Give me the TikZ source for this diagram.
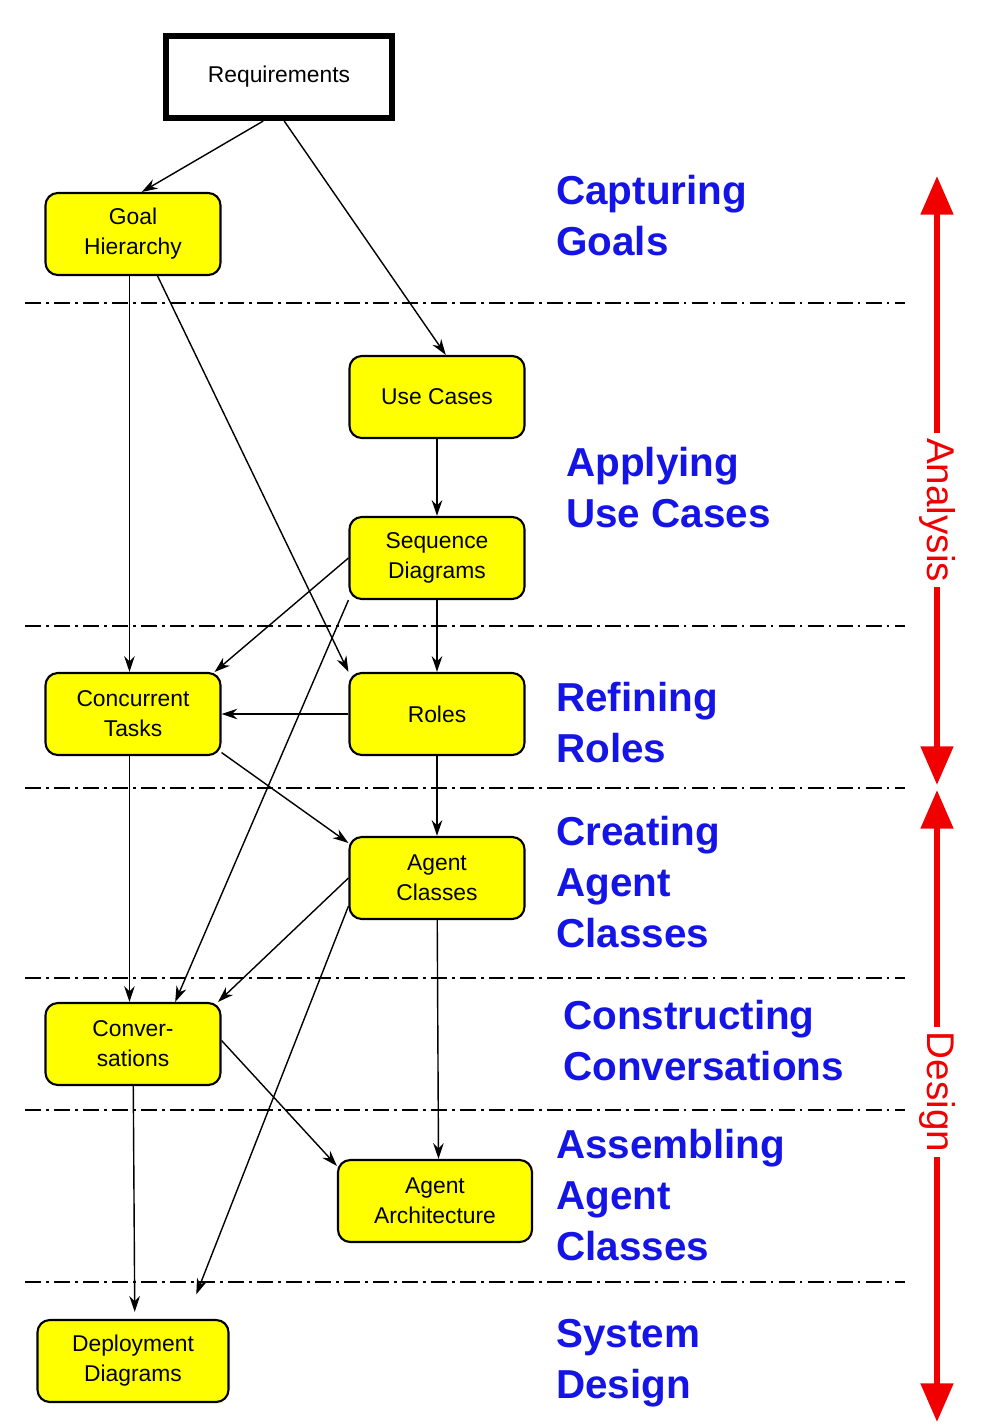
\documentclass[tikz,border=0pt]{standalone}
\usepackage{fontspec}
\setmainfont{Liberation Sans}
\usetikzlibrary{arrows.meta}
\definecolor{boxy}{RGB}{255,255,0}
\definecolor{lblue}{RGB}{20,20,230}
\definecolor{lred}{RGB}{240,0,0}
\tikzset{
 pbox/.style={draw=black,fill=boxy,rounded corners=7pt,line width=1.2pt,minimum width=175*0.02cm,minimum height=82*0.02cm,align=center,font=\fontsize{13}{17}\selectfont,inner sep=1pt},
 conn/.style={-{Stealth[length=9pt,width=6pt]},line width=0.8pt},
 sep/.style={dash pattern=on 9pt off 3pt on 1.5pt off 3pt,line width=0.8pt},
 phase/.style={anchor=west,align=left,text=lblue,font=\bfseries\fontsize{23}{29}\selectfont},
 redarr/.style={draw=lred,line width=3.5pt,{Triangle[length=22pt,width=18pt]}-{Triangle[length=22pt,width=18pt]}},
 redlbl/.style={text=lred,fill=white,rotate=-90,font=\fontsize{22}{26}\selectfont,inner sep=3pt}
}
\begin{document}
\begin{tikzpicture}[x=0.02cm,y=-0.02cm]
\useasboundingbox (0,0) rectangle (993,1427);
\node[draw,line width=3.5pt,minimum width=226*0.02cm,minimum height=82*0.02cm,font=\fontsize{13}{17}\selectfont] (req) at (279,77) {Requirements};
\node[pbox] (goal) at (133,234) {Goal\\Hierarchy};
\node[pbox] (uc) at (437,397) {Use Cases};
\node[pbox] (seq) at (437,558) {Sequence\\Diagrams};
\node[pbox] (ct) at (133,714) {Concurrent\\Tasks};
\node[pbox] (roles) at (437,714) {Roles};
\node[pbox] (ac) at (437,878) {Agent\\Classes};
\node[pbox] (conv) at (133,1044) {Conver-\\sations};
\node[pbox,minimum width=194*0.02cm] (arch) at (435,1201) {Agent\\Architecture};
\node[pbox,minimum width=191*0.02cm] (dep) at (133,1361) {Deployment\\Diagrams};
\foreach \y in {303,626,788,978,1110,1282} \draw[sep] (25,\y) -- (905,\y);
\node[phase] (p1) at (550,216) {Capturing\\Goals};
\node[phase] (p2) at (560,488) {Applying\\Use Cases};
\node[phase] (p3) at (550,723) {Refining\\Roles};
\node[phase] (p4) at (550,882) {Creating\\Agent\\Classes};
\node[phase] (p5) at (557,1041) {Constructing\\Conversations};
\node[phase] (p6) at (550,1195) {Assembling\\Agent\\Classes};
\node[phase] (p7) at (550,1363) {System\\Design};
\coordinate (a1) at (937,176); \coordinate (a2) at (937,785);
\coordinate (d1) at (937,790); \coordinate (d2) at (937,1422);
\draw[redarr] (a1) -- (a2);
\draw[redarr] (d1) -- (d2);
\node[redlbl] (an) at (937,510) {Analysis};
\node[redlbl] (de) at (937,1092) {Design};
\draw[conn] ([xshift=-9pt]req.south) -- ([xshift=5pt]goal.north);
\draw[conn] ([xshift=3pt]req.south) -- ([xshift=5pt]uc.north);
\draw[conn] ([xshift=-2pt]goal.south) -- ([xshift=-2pt]ct.north);
\draw[conn] ([xshift=14pt]goal.south) -- (roles.north west);
\draw[conn] (uc) -- (seq);
\draw[conn] (seq.west) -- ([xshift=-4pt]ct.north east);
\draw[conn] (seq.south west) -- ([xshift=24pt]conv.north);
\draw[conn] (seq) -- (roles);
\draw[conn] (roles) -- (ct);
\draw[conn] ([yshift=2pt]ct.south east) -- ([yshift=-4pt]ac.north west);
\draw[conn] (roles) -- (ac);
\draw[conn] ([xshift=-2pt]ct.south) -- ([xshift=-2pt]conv.north);
\draw[conn] (ac.west) -- ([xshift=-2pt]conv.north east);
\draw[conn] ([yshift=-16pt]ac.west) -- ([xshift=36pt,yshift=14pt]dep.north);
\draw[conn] (ac) -- ([xshift=2pt]arch.north);
\draw[conn] ([yshift=2pt]conv.east) -- ([yshift=-4pt]arch.north west);
\draw[conn] (conv) -- ([xshift=1pt,yshift=4pt]dep.north);
\end{tikzpicture}
\end{document}
